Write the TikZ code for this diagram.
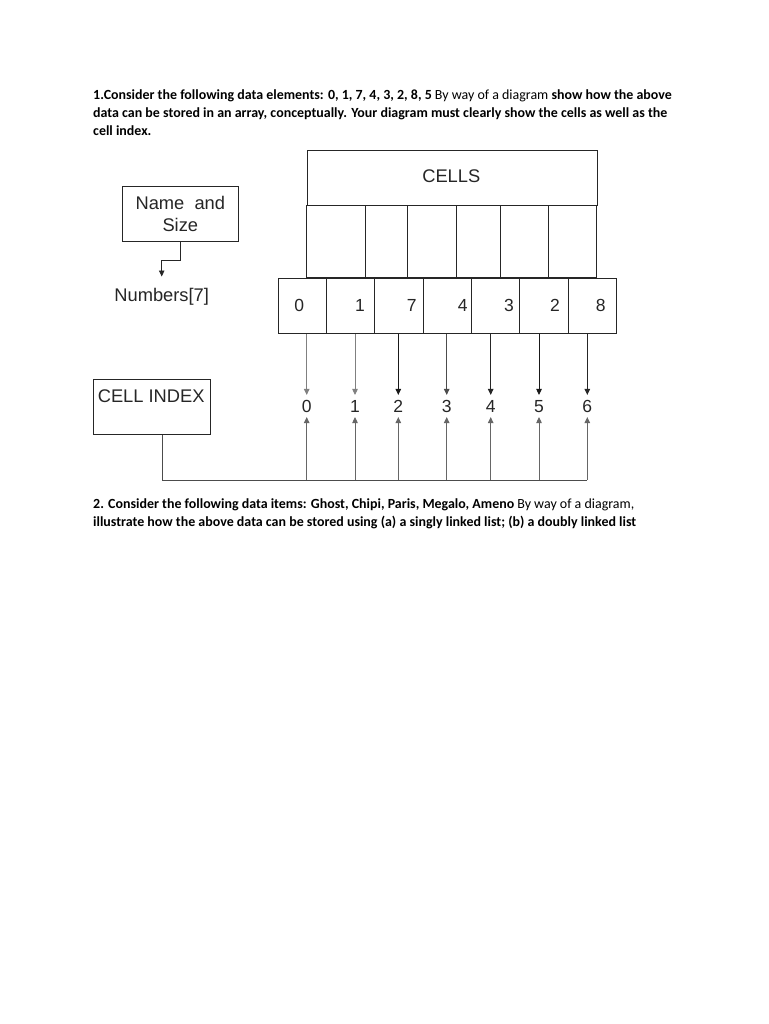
\documentclass[tikz,border=0pt]{standalone}
\usepackage{fontspec}
\setmainfont{Carlito}
\newfontfamily\arialf{Liberation Sans}
\usetikzlibrary{arrows.meta}
\begin{document}
\begin{tikzpicture}[x=1pt,y=-1pt,
  txt/.style={anchor=base west, inner sep=0, font=\fontsize{13.95}{18}\selectfont\bfseries},
  dg/.style={font=\arialf\fontsize{17.5}{21}\selectfont, text=black!85, inner sep=0, text height=12.6pt, text depth=0pt},
  dgb/.style={font=\arialf\fontsize{18.3}{21.6}\selectfont, text=black!85, inner sep=0},
  box/.style={draw=black!85, line width=0.9pt},
  ln/.style={draw=black!70, line width=0.9pt},
  arr/.style={-{Triangle[width=5.5pt,length=6pt]}, line width=0.9pt},
]
\useasboundingbox[fill=white] (0,0) rectangle (768,1024);

% question 1
\node[txt] (q1a) at (93,100) {1.Consider the following data elements: 0, 1, 7, 4, 3, 2, 8, 5 {\mdseries By way of a diagram} show how the above};
\node[txt] (q1b) at (93,118) {data can be stored in an array, conceptually. Your diagram must clearly show the cells as well as the};
\node[txt] (q1c) at (93,136) {cell index.};

% cells header
\node[box, minimum width=290pt, minimum height=55pt, anchor=north west, inner sep=0] (hdr) at (306.7,150) {};
\node[dgb] (cellslbl) at (451.3,176) {CELLS};
\foreach \a/\b in {306.7/365, 365/407.3, 407.3/456.7, 456.7/500, 500/548.3, 548.3/596.7}
  \draw[box] (\a,205) rectangle (\b,277.7);

% array
\foreach \i in {0,...,6}
  \node[box, minimum width=48.33pt, minimum height=55.6pt, inner sep=0, anchor=north west] (c\i) at ({277.7+48.33*\i},277.7) {};
\foreach \v/\x [count=\i from 0] in {0/299.3,1/360,7/411.7,4/462.7,3/509,2/555,8/600.7}
  \node[dg] (v\i) at (\x,305) {\v};

% name and size
\node[box, dgb, align=center, minimum width=116pt, minimum height=55pt] (ns) at (180.3,214.2) {Name\ \ and\\Size};
\node[dgb, minimum height=40.6pt] (num) at (161.7,297) {Numbers[7]};
\draw[arr, draw=black!85] (ns.south) -- ++(0,18.3) -| (num.north);

% cell index
\node[box, minimum width=116.7pt, minimum height=54.7pt, anchor=north west, inner sep=0] (ci) at (93.3,379.3) {};
\node[dgb] (cilbl) at (151.2,396) {CELL INDEX};

\foreach \x [count=\i from 0] in {306.7,355,398.3,446.7,490.7,539,587.3}
  \node[dg, minimum height=21.7pt] (ix\i) at (\x,406) {\i};

\foreach \i/\c in {0/50,1/50,2/90,3/70,4/85,5/90,6/85}
  \draw[arr, draw=black!\c] (ix\i |- c\i.south) -- (ix\i.north);

\coordinate (bus6) at (587.3,480);
\draw[ln] ([xshift=10pt]ci.south) |- (bus6);
\foreach \i in {0,...,6}
  \draw[arr, draw=black!60] (ix\i |- bus6) -- (ix\i.south);

% question 2
\node[txt] (q2a) at (93,508) {2. Consider the following data items: Ghost, Chipi, Paris, Megalo, Ameno {\mdseries By way of a diagram,}};
\node[txt] (q2b) at (93,526) {illustrate how the above data can be stored using (a) a singly linked list; (b) a doubly linked list};
\end{tikzpicture}
\end{document}
